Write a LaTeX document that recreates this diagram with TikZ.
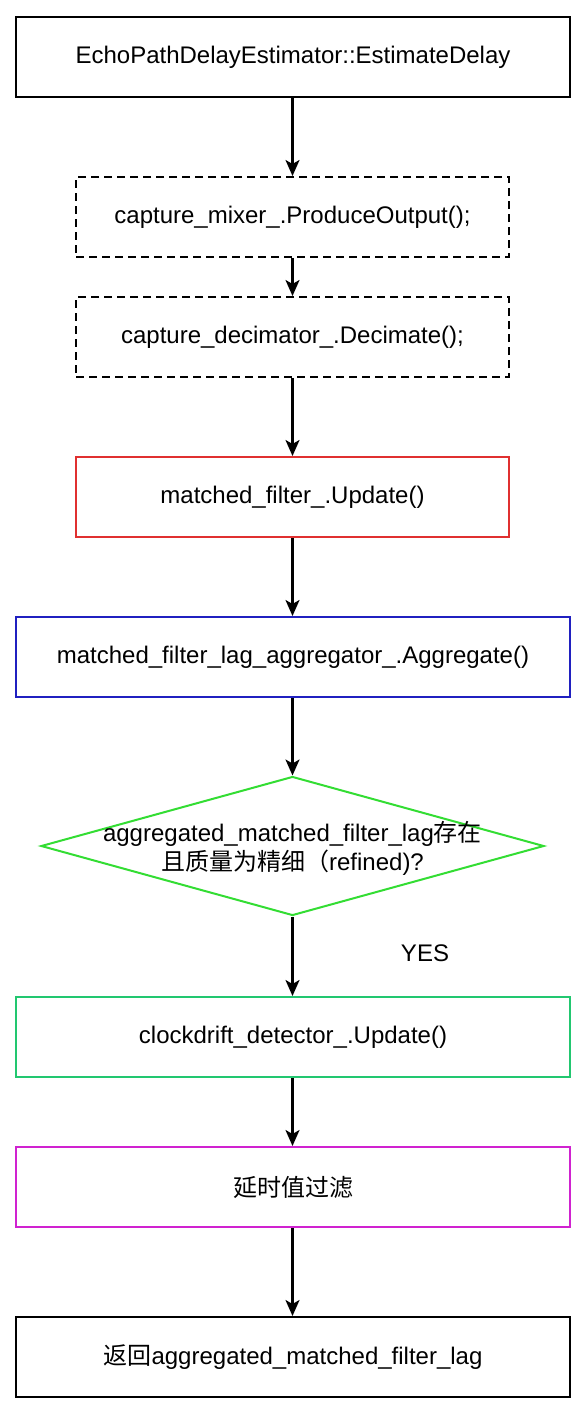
\documentclass[tikz,border=0pt]{standalone}
\usepackage{fontspec}
\setmainfont{Liberation Sans}
\newfontfamily\cjk{Noto Sans CJK SC}
\usetikzlibrary{shapes.geometric,arrows.meta}
\definecolor{boxred}{HTML}{E03030}
\definecolor{boxblue}{HTML}{2020C0}
\definecolor{boxgreen}{HTML}{33DD33}
\definecolor{boxteal}{HTML}{22C770}
\definecolor{boxpink}{HTML}{D022D0}
\tikzset{
  stepbox/.style={draw, line width=2pt, rectangle, minimum height=80pt, font=\fontsize{24}{29}\selectfont},
  wide/.style={stepbox, minimum width=554pt},
  narrow/.style={stepbox, minimum width=433pt},
  dashbox/.style={narrow, dash pattern=on 8pt off 5pt},
  decision/.style={draw=boxgreen, line width=2pt, diamond, aspect=3.62, inner sep=0pt, minimum width=503pt, minimum height=139pt},
  flow/.style={-{Stealth[length=16pt,width=14pt,inset=4pt]}, line width=2.2pt}
}
\begin{document}
\begin{tikzpicture}[x=1pt,y=-1pt]
  \useasboundingbox[fill=white] (0,0) rectangle (586,1414);

  % Boxes
  \node[wide] (estimate) at (293,57) {EchoPathDelayEstimator::EstimateDelay};
  \node[dashbox] (mixer) at (292.5,217) {capture\_mixer\_.ProduceOutput();};
  \node[dashbox] (decimator) at (292.5,337) {capture\_decimator\_.Decimate();};
  \node[narrow, draw=boxred] (filter) at (292.5,497) {matched\_filter\_.Update()};
  \node[wide, draw=boxblue] (aggregator) at (293,657) {matched\_filter\_lag\_aggregator\_.Aggregate()};

  % Decision
  \node[decision] (refined) at (292.5,846) {};
  \node[align=center, font=\fontsize{24}{29}\selectfont] (question) at (292.5,848)
    {aggregated\_matched\_filter\_lag{\cjk 存在}\\{\cjk 且质量为精细（}refined)?};
  \node[font=\fontsize{24}{29}\selectfont] (yes) at (425,953) {YES};

  \node[wide, draw=boxteal] (clockdrift) at (293,1037) {clockdrift\_detector\_.Update()};
  \node[wide, draw=boxpink] (smooth) at (293,1187) {\cjk 延时值过滤};
  \node[wide] (result) at (293,1357) {{\cjk 返回}aggregated\_matched\_filter\_lag};

  % Arrows
  \draw[flow] (estimate.south -| mixer) -- (mixer);
  \draw[flow] (mixer) -- (decimator);
  \draw[flow] (decimator) -- (filter);
  \draw[flow] (filter) -- (aggregator.north -| filter);
  \draw[flow] (aggregator.south -| filter) -- (refined.north);
  \draw[flow] (refined.south) -- (clockdrift.north -| refined);
  \draw[flow] (clockdrift.south -| refined) -- (smooth.north -| refined);
  \draw[flow] (smooth.south -| refined) -- (result.north -| refined);
\end{tikzpicture}
\end{document}
